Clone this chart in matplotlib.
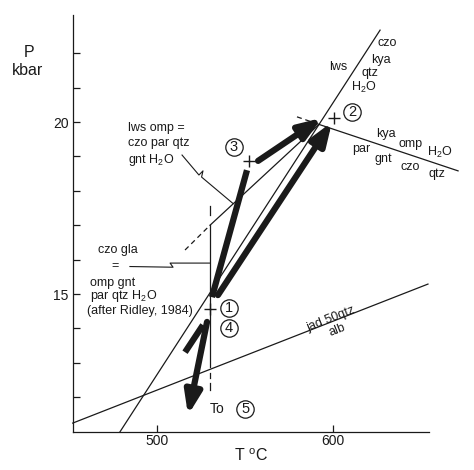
import matplotlib.pyplot as plt

plt.rcParams['font.family'] = ['Liberation Sans', 'DejaVu Sans']
plt.rcParams['mathtext.default'] = 'regular'

# --- données (T en °C, P en kbar) ---
# réaction raide : lws = czo kya qtz H2O
raide_T = [479.2, 626.9]
raide_P = [11.0, 22.67]
# jad 50qtz = alb
jad_T = [452.3, 654.1]
jad_P = [11.25, 15.29]
# lws omp = czo par qtz gnt H2O
lws_tirets_T = [516.1, 530.3]
lws_tirets_P = [16.28, 17.0]
lws_T = [530.3, 592.2]
lws_P = [17.0, 19.93]
# réaction vers la droite depuis le point invariant
droite_tirets_T = [579.7, 592.2]
droite_tirets_P = [20.15, 19.93]
droite_T = [592.2, 671.2]
droite_P = [19.93, 18.58]
# czo gla = omp gnt par qtz H2O (Ridley, 1984)
ridley_T = 530.3
ridley_plein = [17.0, 12.88]
ridley_tirets = [[17.56, 17.30], [12.70, 12.56], [12.41, 12.21]]

# chemin P-T (traits épais)
chemin_T = [551.3, 531.4]
chemin_P = [18.6, 14.91]
court_T = [526.3, 516.1]
court_P = [14.1, 13.31]
fleches = [  # (départ T, départ P, pointe T, pointe P)
    (557.6, 18.87, 593.9, 20.12),
    (534.8, 14.97, 599.6, 20.0),
    (528.6, 14.19, 517.8, 11.48),
]
croix_T = [600.9, 552.4, 530.3]
croix_P = [20.12, 18.87, 14.56]

# points numérotés
num_labels = ['1', '2', '3', '4', '5']
num_T = [541.1, 610.9, 543.9, 541.1, 550.2]
num_P = [14.59, 20.29, 19.27, 14.01, 11.66]

# traits de rappel (avec le petit zigzag)
rappel1_T = [514.4, 524.0, 526.3, 525.5, 543.4]
rappel1_P = [19.04, 18.46, 18.58, 18.40, 17.63]
rappel2_T = [484.8, 509.3, 507.6, 530.3]
rappel2_P = [15.80, 15.78, 15.90, 15.90]

y_ticks = list(range(12, 23))
x_ticks = [500, 600]

fig = plt.figure(figsize=(4.74, 4.70), dpi=100)
ax = fig.add_axes([0.1534, 0.0815, 0.7517, 0.8866])
ax.set_xlim(452.3, 654.7)
ax.set_ylim(11.0, 23.11)

k = '#1a1a1a'
fin = dict(color=k, lw=0.9, clip_on=False)

# lignes de réaction
ax.plot(raide_T, raide_P, **fin)
ax.plot(jad_T, jad_P, **fin)
ax.plot(lws_T, lws_P, **fin)
ax.plot(lws_tirets_T, lws_tirets_P, ls=(0, (4, 3)), **fin)
ax.plot(droite_T, droite_P, **fin)
ax.plot(droite_tirets_T, droite_tirets_P, ls=(0, (4, 3)), **fin)
ax.plot([ridley_T, ridley_T], ridley_plein, **fin)
for seg in ridley_tirets:
    ax.plot([ridley_T, ridley_T], seg, **fin)
ax.plot(rappel1_T, rappel1_P, color=k, lw=0.8)
ax.plot(rappel2_T, rappel2_P, color=k, lw=0.8)

# chemin P-T
ax.plot(chemin_T, chemin_P, color=k, lw=4.5, solid_capstyle='butt')
ax.plot(court_T, court_P, color=k, lw=4.5, solid_capstyle='butt')
for t0, p0, t1, p1 in fleches:
    ax.annotate('', xy=(t1, p1), xytext=(t0, p0),
                arrowprops=dict(arrowstyle='-|>,head_length=0.9,head_width=0.33',
                                lw=4.5, color=k, mutation_scale=15,
                                shrinkA=0, shrinkB=0))
ax.plot(croix_T, croix_P, '+', color=k, ms=8, mew=1.0, ls='none')

for lab, t, p in zip(num_labels, num_T, num_P):
    ax.plot(t, p, 'o', ms=12.5, mfc='white', mec=k, mew=0.9, zorder=5, clip_on=False)
    ax.text(t, p, lab, ha='center', va='center', fontsize=10.5, color=k, zorder=6)
ax.text(534.3, 11.66, 'To', ha='center', va='center', fontsize=10, color=k)

# étiquettes des réactions
fs = 9
ax.text(483.7, 19.83, 'lws omp =', fontsize=fs, va='center', color=k)
ax.text(483.7, 19.39, 'czo par qtz', fontsize=fs, va='center', color=k)
ax.text(483.7, 18.90, 'gnt H$_2$O', fontsize=fs, va='center', color=k)

ax.text(478.0, 16.28, 'czo gla', fontsize=fs, ha='center', va='center', color=k)
ax.text(476.3, 15.81, '=', fontsize=fs, ha='center', va='center', color=k)
ax.text(462.1, 15.32, 'omp gnt', fontsize=fs, va='center', color=k)
ax.text(462.1, 14.94, 'par qtz H$_2$O', fontsize=fs, va='center', color=k)
ax.text(460.4, 14.51, '(after Ridley, 1984)', fontsize=fs, va='center', color=k)

for txt, t, p in [('czo', 630.9, 22.30), ('kya', 627.6, 21.80), ('qtz', 621.2, 21.42),
                  ('H$_2$O', 617.6, 21.0), ('lws', 603.0, 21.6),
                  ('kya', 630.2, 19.64), ('omp', 644.4, 19.36), ('H$_2$O', 661.0, 19.12),
                  ('par', 616.0, 19.21), ('gnt', 628.5, 18.92), ('czo', 643.9, 18.70),
                  ('qtz', 659.3, 18.49)]:
    ax.text(t, p, txt, fontsize=fs, ha='center', va='center', color=k)

ax.text(598.7, 14.27, 'jad 50qtz', fontsize=fs, ha='center', va='center',
        rotation=21.4, rotation_mode='anchor', color=k)
ax.text(602.7, 13.95, 'alb', fontsize=fs, ha='center', va='center',
        rotation=21.4, rotation_mode='anchor', color=k)

# axes
ax.text(427.4, 22.03, 'P', fontsize=11.5, ha='center', va='center', color=k)
ax.text(426.9, 21.51, 'kbar', fontsize=11.5, ha='center', va='center', color=k)
ax.text(553.6, 10.29, 'T $^o$C', fontsize=11.5, ha='center', va='center', color=k)

ax.spines['top'].set_visible(False)
ax.spines['right'].set_visible(False)
for s in ['left', 'bottom']:
    ax.spines[s].set_color(k)
    ax.spines[s].set_linewidth(0.9)
ax.set_yticks(y_ticks)
ax.set_yticklabels(['20' if v == 20 else '15' if v == 15 else '' for v in y_ticks])
ax.set_xticks(x_ticks)
ax.set_xticklabels([str(v) for v in x_ticks])
ax.tick_params(direction='in', length=5, width=0.9, colors=k, labelsize=10, pad=3)
ax.tick_params(axis='x', pad=2)

plt.savefig('out.png', dpi=100)
